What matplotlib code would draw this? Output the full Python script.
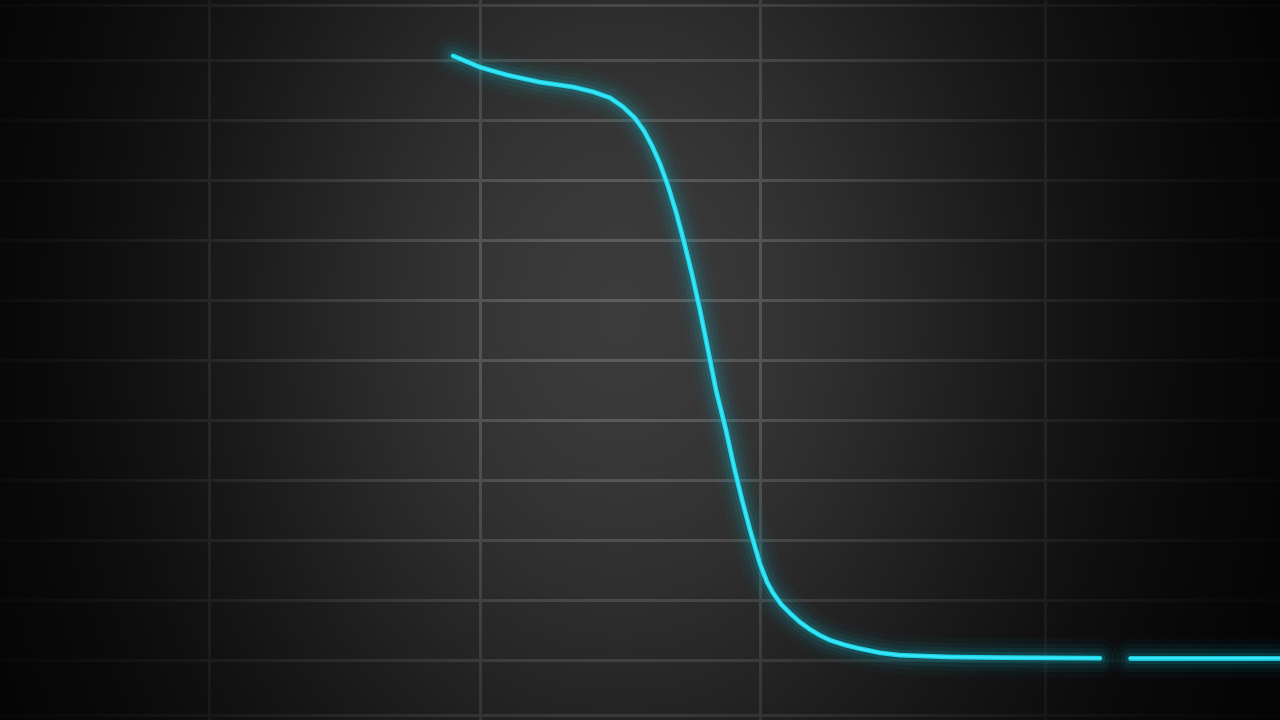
import numpy as np
import matplotlib
matplotlib.use("Agg")
import matplotlib.pyplot as plt

# curve (x: px/100, y: grid rows from bottom)
curve_x = [4.53, 4.80, 5.07, 5.40, 5.73, 5.93, 6.10, 6.23, 6.35, 6.44,
           6.52, 6.60, 6.68, 6.76, 6.84, 6.92, 7.00, 7.08, 7.16, 7.26,
           7.34, 7.42, 7.50, 7.60, 7.67, 7.73, 7.81, 7.90, 8.00, 8.10,
           8.20, 8.30, 8.45, 8.57, 8.80, 9.00, 9.50, 10.00, 11.00]
curve_y = [11.07, 10.88, 10.75, 10.63, 10.55, 10.47, 10.37, 10.22, 10.03, 9.82,
           9.57, 9.27, 8.90, 8.47, 7.97, 7.43, 6.83, 6.17, 5.50, 4.83,
           4.22, 3.67, 3.17, 2.60, 2.30, 2.12, 1.93, 1.78, 1.63, 1.51,
           1.41, 1.33, 1.25, 1.20, 1.12, 1.08, 1.05, 1.04, 1.03]
tail_x = [11.30, 12.80]
tail_y = [1.03, 1.03]

grid_x = [2.09, 4.80, 7.60, 10.45]
grid_y = [0.08, 1.0, 2.0, 3.0, 4.0, 5.0, 6.0, 7.0, 8.0, 9.0, 10.0, 11.0, 11.92]

fig = plt.figure(figsize=(12.8, 7.2), dpi=100)
ax = fig.add_axes([0, 0, 1, 1])
ax.set_xlim(0, 12.8)
ax.set_ylim(0, 12)
ax.set_facecolor("#3b3b3b")
for s in ax.spines.values():
    s.set_visible(False)
ax.set_xticks([])
ax.set_yticks([])

for x in grid_x:
    ax.axvline(x, color="#5e5e5e", lw=2.2, zorder=1)
for y in grid_y:
    ax.axhline(y, color="#5e5e5e", lw=2.2, zorder=1)

# vignette overlay, darkens background and grid toward the edges
gx, gy = np.meshgrid(np.linspace(0, 1280, 640), np.linspace(0, 720, 360))
d = ((gx - 620) / 440.0) ** 2 + ((gy - 310) / 580.0) ** 2
keep = np.exp(-d)
vig = np.zeros((360, 640, 4))
vig[..., 3] = np.clip(1.0 - keep, 0, 0.97)
ax.imshow(vig, extent=(0, 12.8, 0, 12), origin="upper", aspect="auto",
          zorder=1.5, interpolation="bilinear")

# glowing line
for xs, ys in [(curve_x, curve_y), (tail_x, tail_y)]:
    for lw, a in [(28, 0.04), (20, 0.06), (14, 0.09), (8, 0.16)]:
        ax.plot(xs, ys, color="#10b4c8", lw=lw, alpha=a,
                solid_capstyle="round", solid_joinstyle="round", zorder=2)
    ax.plot(xs, ys, color="#1dd4e8", lw=3.4, solid_capstyle="round",
            solid_joinstyle="round", zorder=3)
    ax.plot(xs, ys, color="#3eecfb", lw=1.6, alpha=0.8,
            solid_capstyle="round", solid_joinstyle="round", zorder=4)

fig.savefig("out.png", dpi=100, facecolor="black")
